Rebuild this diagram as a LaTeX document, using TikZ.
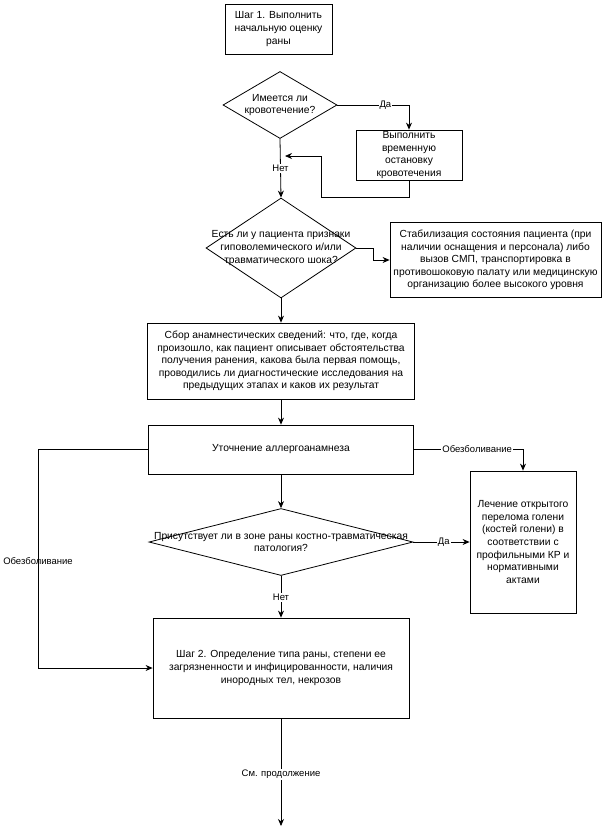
\documentclass[tikz,border=0pt]{standalone}
\usepackage{fontspec}
\setmainfont{Liberation Sans}
\usetikzlibrary{arrows.meta,shapes.geometric}
\begin{document}
\begin{tikzpicture}[x=1pt,y=-1pt,
  box/.style={draw, line width=0.8pt, align=center, inner sep=1pt, font=\fontsize{10.3}{12.6}\selectfont},
  dia/.style={draw, diamond, line width=0.8pt, inner sep=0pt},
  txt/.style={align=center, font=\fontsize{10.3}{12.6}\selectfont, inner sep=0pt},
  lbl/.style={fill=white, inner sep=1pt, font=\fontsize{9.5}{10}\selectfont},
  lblplain/.style={inner sep=1pt, font=\fontsize{9.5}{10}\selectfont},
  conn/.style={line width=0.8pt, -{Stealth[length=7pt,width=6pt]}},
  ln/.style={line width=0.8pt},
]
\useasboundingbox[fill=white] (0,0) rectangle (608,830);

% nodes
\node[box, minimum width=107pt, minimum height=50pt] (s1) at (278.5,29) {Шаг 1. Выполнить\\начальную оценку\\раны};

\node[dia, minimum width=114pt, minimum height=67pt] (d1) at (280,105) {};
\node[txt] (d1t) at (d1) {Имеется ли\\кровотечение?};

\node[box, minimum width=106pt, minimum height=50pt] (b2) at (409,155) {Выполнить\\временную\\остановку\\кровотечения};

\node[dia, minimum width=150pt, minimum height=100pt] (d2) at (281,248) {};
\node[txt] (d2t) at (d2) {Есть ли у пациента признаки\\гиповолемического и/или\\травматического шока?};

\node[box, minimum width=211pt, minimum height=75pt] (b3) at (495.5,260) {Стабилизация состояния пациента (при\\наличии оснащения и персонала) либо\\вызов СМП, транспортировка в\\противошоковую палату или медицинскую\\организацию более высокого уровня};

\node[box, minimum width=267pt, minimum height=76pt] (b4) at (281,361) {Сбор анамнестических сведений: что, где, когда\\произошло, как пациент описывает обстоятельства\\получения ранения, какова была первая помощь,\\проводились ли диагностические исследования на\\предыдущих этапах и каков их результат};

\node[box, minimum width=265pt, minimum height=49pt] (b5) at (281,449.5) {Уточнение аллергоанамнеза};

\node[box, minimum width=106pt, minimum height=142pt] (b6) at (523,542) {Лечение открытого\\перелома голени\\(костей голени) в\\соответствии с\\профильными КР и\\нормативными\\актами};

\node[dia, minimum width=264pt, minimum height=67pt] (d3) at (281,542) {};
\node[txt] (d3t) at (d3) {Присутствует ли в зоне раны костно-травматическая\\патология?};

\node[box, minimum width=256pt, minimum height=100pt] (b7) at (281,668) {Шаг 2. Определение типа раны, степени ее\\загрязненности и инфицированности, наличия\\инородных тел, некрозов};

\coordinate (loopend) at (285,156);
\coordinate (endpt) at (281,826);

% connectors
\draw[conn] (d1.east) -- node[lbl, pos=0.67] (l1) {Да} (d1.east -| b2.north) -- (b2.north);
\draw[conn] (b2.south) -- (409,197) -- (321,197) -- (321,156) -- (loopend);
\draw[conn] (d1.south) -- node[lbl, pos=0.5] (l2) {Нет} (d2.north);
\draw[conn] (d2.east) -- (373,248) |- (b3.west);
\draw[conn] (d2.south) -- (b4.north);
\draw[conn] (b4.south) -- (b5.north);
\draw[conn] (b5.east) -- node[lbl, pos=0.58] (l3) {Обезболивание} (b5.east -| b6.north) -- (b6.north);
\draw[conn] (b5.west) -- (38,449.5) -- (38,668) -- (b7.west);
\node[lblplain] (l4) at (38,561) {Обезболивание};
\draw[conn] (b5.south) -- (d3.north);
\draw[conn] (d3.east) -- node[lbl, pos=0.54] (l5) {Да} (b6.west);
\draw[conn] (d3.south) -- node[lbl, pos=0.52] (l6) {Нет} (b7.north);
\draw[conn] (b7.south) -- node[lbl, pos=0.52] (l7) {См. продолжение} (endpt);
\end{tikzpicture}
\end{document}
